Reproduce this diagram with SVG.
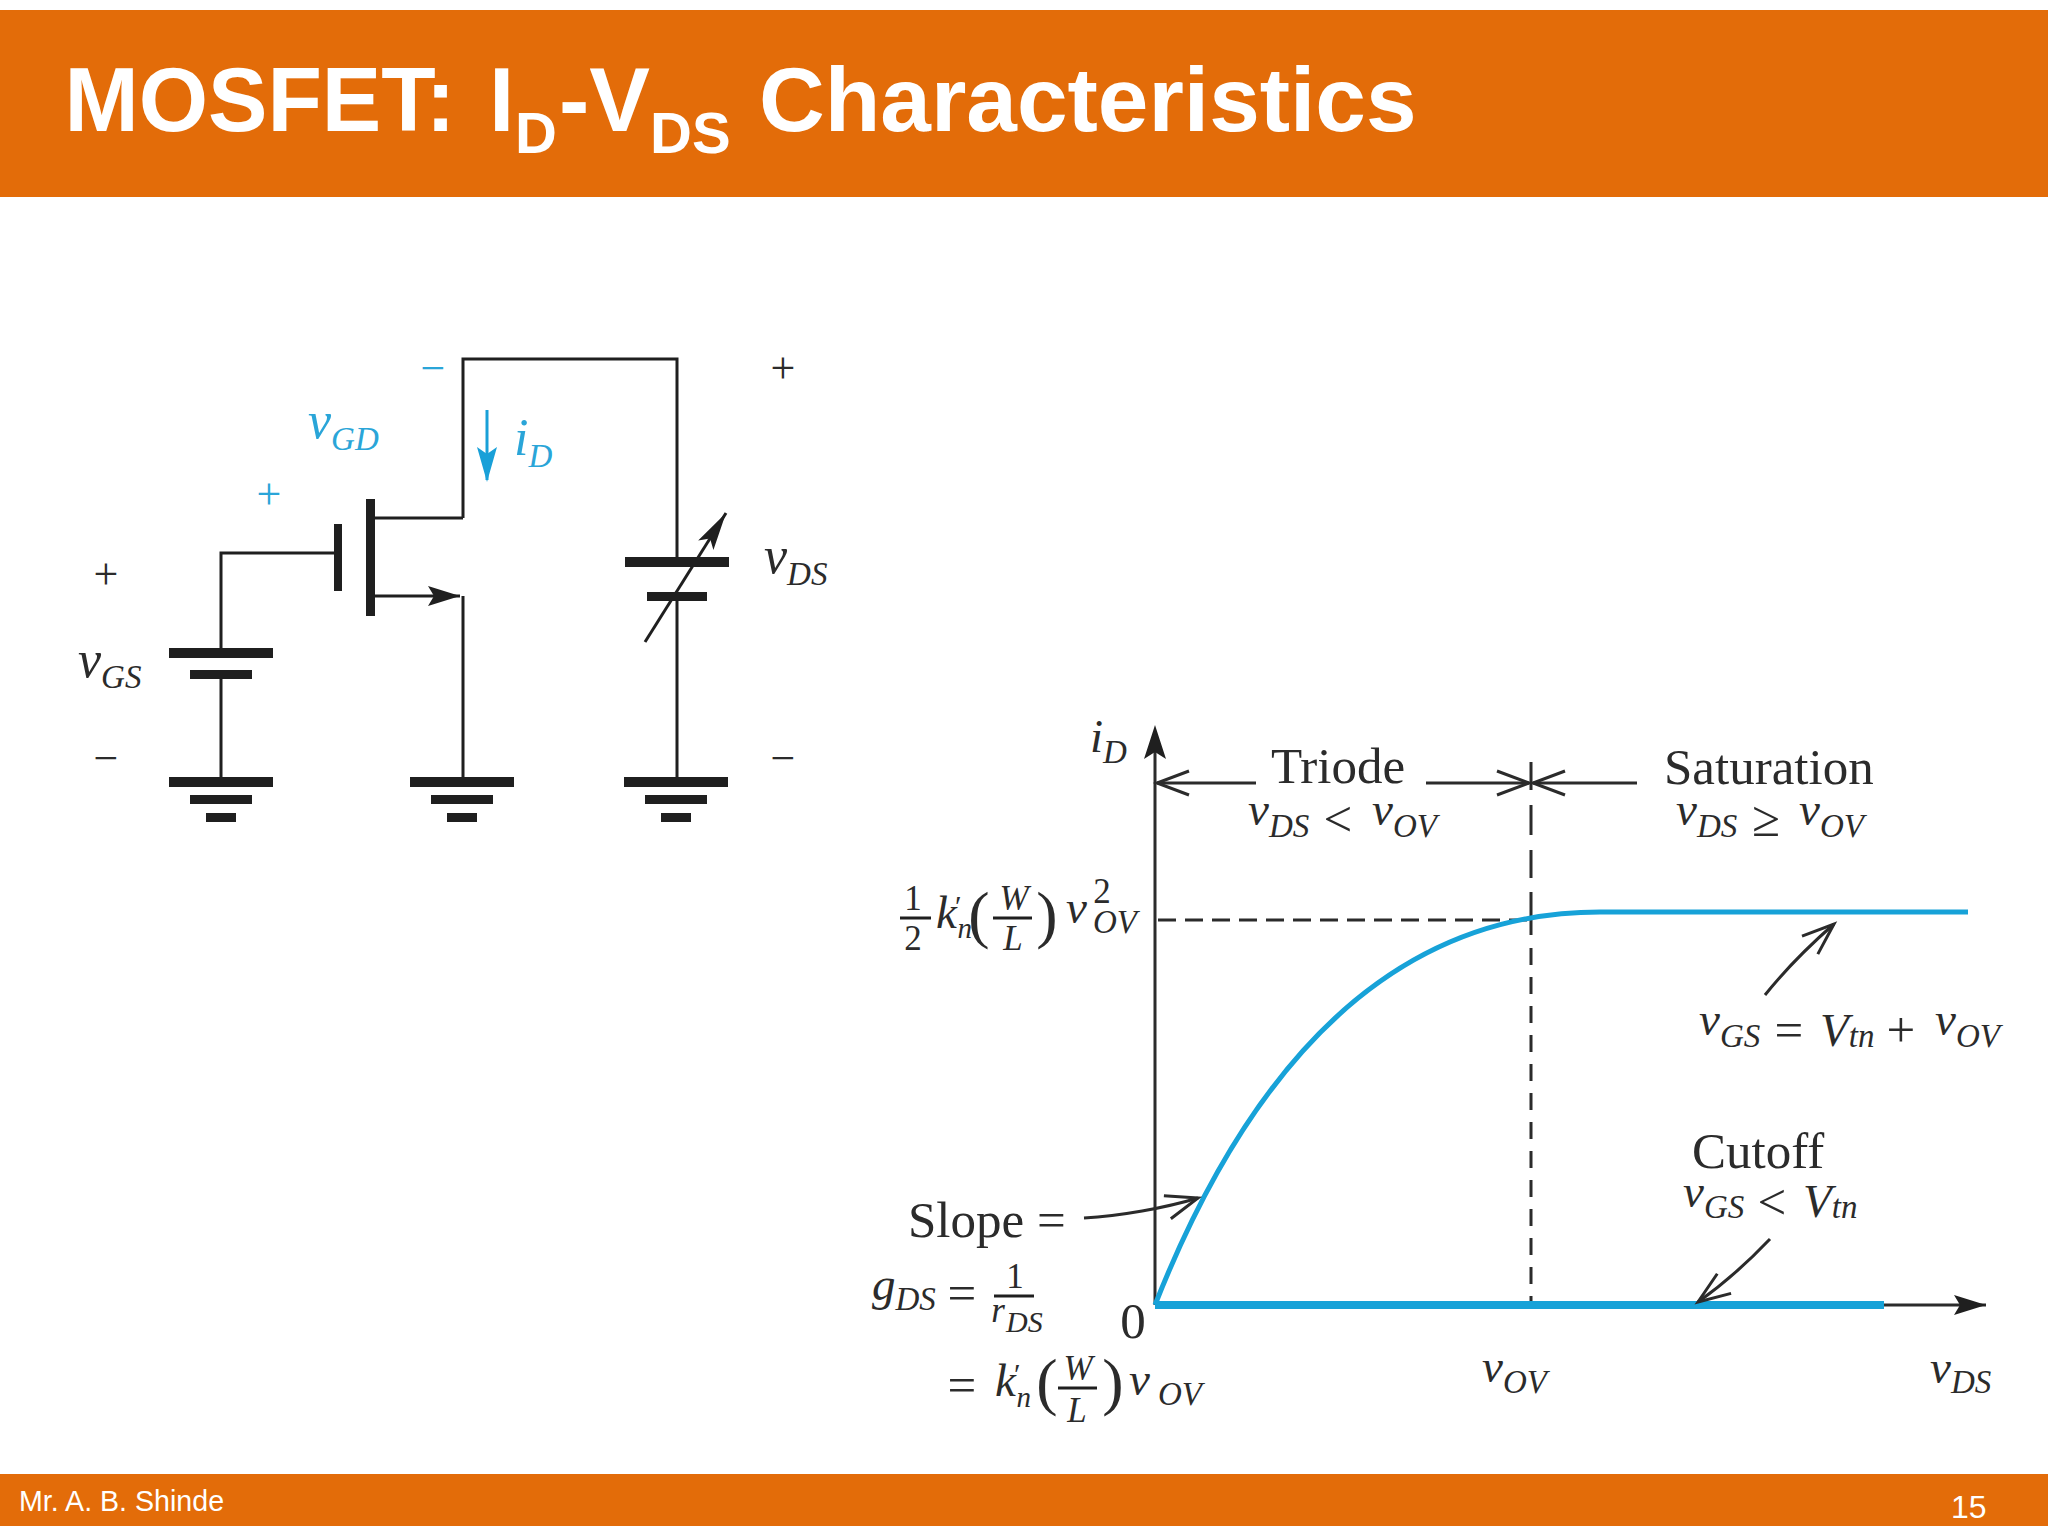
<svg xmlns="http://www.w3.org/2000/svg" width="2048" height="1536" viewBox="0 0 2048 1536">
<style>
text{font-family:"Liberation Serif","Times New Roman",serif;fill:#2b2b2b}
.v{font-style:italic;font-size:52px}
.g{font-style:italic;font-size:47px}
.s{font-style:italic;font-size:33px}
.r{font-size:51px}
.m{text-anchor:middle}
.f{font-size:35px;text-anchor:middle}
.fi{font-size:35px;font-style:italic;text-anchor:middle}
.p{font-size:64px;text-anchor:middle;font-weight:normal}
.blue,.blue tspan{fill:#2aa5d8}
.w{fill:none;stroke:#1f1f1f;stroke-width:3}
.bar{fill:#1f1f1f}
.thin{stroke:#2b2b2b;stroke-width:3;fill:none}
.curve{stroke:#17a2d8;fill:none;stroke-width:5}
.title,.title tspan{font-family:"Liberation Sans",Arial,sans-serif;font-weight:700;font-size:91px;fill:#fff}
.title .sb{font-size:58px}
.foot{font-family:"Liberation Sans",Arial,sans-serif;fill:#fff}
</style>
<defs>
<marker id="open" markerUnits="userSpaceOnUse" markerWidth="44" markerHeight="34" refX="34" refY="17" orient="auto"><path d="M2 5 L34 17 L2 29" fill="none" stroke="#2b2b2b" stroke-width="3"/></marker>
<marker id="solid" markerUnits="userSpaceOnUse" markerWidth="40" markerHeight="30" refX="32" refY="15" orient="auto"><path d="M0 5 L32 15 L0 25 L6 15 Z" fill="#1f1f1f"/></marker>
<marker id="varhead" markerUnits="userSpaceOnUse" markerWidth="48" markerHeight="30" refX="40" refY="15" orient="auto"><path d="M2 6 L40 15 L2 24 L10 15 Z" fill="#1f1f1f"/></marker>
<g id="gnd"><rect x="-52" y="-5" width="104" height="10"/><rect x="-31" y="13" width="62" height="9"/><rect x="-15" y="31" width="30" height="9"/></g>
</defs>
<rect width="2048" height="1536" fill="#fff"/>

<g id="header">
<rect x="0" y="10" width="2048" height="187" fill="#e36c09"/>
<text class="title" x="64.500" y="131" textLength="391" lengthAdjust="spacingAndGlyphs">MOSFET:</text>
<text class="title" x="489" y="131">I<tspan class="sb" x="515" dy="22">D</tspan><tspan x="559" dy="-22">-V</tspan><tspan class="sb" x="650" dy="22">DS</tspan><tspan x="759" dy="-22">Characteristics</tspan></text>
</g>

<g id="footer">
<rect x="0" y="1474" width="2048" height="52" fill="#e36c09"/>
<text class="foot" x="19" y="1511" font-size="28.600">Mr. A. B. Shinde</text>
<text class="foot" x="1951" y="1518" font-size="32">15</text>
</g>

<g id="connectors">
<path class="w" d="M463 518V359H677V562M677 596V782M374 518H463M338 553H221V648M221 674V782M463 596V782"/>
<path class="w" d="M374 596H460" marker-end="url(#solid)"/>
<path class="w" d="M645 642L726 513" marker-end="url(#varhead)"/>
<path d="M487 410V480" fill="none" stroke="#19a0d8" stroke-width="3"/>
<path d="M477 447L487 482L497 447L487 454Z" fill="#19a0d8"/>
<path class="thin" d="M1155 1305V745"/>
<path d="M1155 725L1166 759L1155 752L1144 759Z" fill="#1f1f1f"/>
<path class="thin" d="M1256 783H1157" marker-end="url(#open)"/>
<path class="thin" d="M1426 783H1529" marker-end="url(#open)"/>
<path class="thin" d="M1637 783H1533" marker-end="url(#open)"/>
<path class="thin" d="M1531 762V790M1531 805V835M1531 850V878M1531 892V935"/>
<path class="thin" d="M1531 948V1305" stroke-dasharray="17 12"/>
<path class="thin" d="M1158 920H1531" stroke-dasharray="18 9"/>
<path class="thin" d="M1884 1305H1986" marker-end="url(#solid)"/>
<path class="curve" d="M1155 1305Q1310 912 1600 912H1968"/>
<path class="curve" style="stroke-width:8" d="M1155 1305H1884"/>
<path class="thin" d="M1084 1218C1120 1216 1165 1208 1198 1198" marker-end="url(#open)"/>
<path class="thin" d="M1765 995C1785 970 1810 945 1834 924" marker-end="url(#open)"/>
<path class="thin" d="M1770 1239C1750 1260 1725 1283 1698 1302" marker-end="url(#open)"/>
</g>

<g id="mosfet" class="bar">
<rect x="366" y="499" width="9" height="117"/>
<rect x="334" y="524" width="8" height="67"/>
</g>
<g id="source-gs" class="bar">
<rect x="169" y="648" width="104" height="10"/>
<rect x="190" y="670" width="62" height="9"/>
</g>
<g id="source-ds" class="bar">
<rect x="625" y="557" width="104" height="10"/>
<rect x="647" y="592" width="60" height="9"/>
</g>
<use id="ground-1" href="#gnd" x="221" y="782" class="bar"/>
<use id="ground-2" href="#gnd" x="462" y="782" class="bar"/>
<use id="ground-3" href="#gnd" x="676" y="782" class="bar"/>

<g id="circuit-labels">
<text class="v blue" x="308" y="438">v<tspan class="s" dy="12">GD</tspan></text>
<text class="v blue" x="514" y="455">i<tspan class="s" dy="12">D</tspan></text>
<text class="blue m" x="269" y="509" font-size="44">+</text>
<text class="blue m" x="433" y="383" font-size="44">−</text>
<text class="m" x="106" y="589" font-size="44">+</text>
<text class="m" x="106" y="773" font-size="44">−</text>
<text class="m" x="783" y="383" font-size="44">+</text>
<text class="m" x="783" y="773" font-size="44">−</text>
<text class="v" x="78" y="677">v<tspan class="s" dy="11">GS</tspan></text>
<text class="v" x="764" y="573">v<tspan class="s" dy="12">DS</tspan></text>
</g>

<g id="graph-labels">
<text class="g" x="1090" y="752">i<tspan class="s" dy="11">D</tspan></text>
<text class="r" x="1271" y="783">Triode</text>
<text class="g" x="1248" y="825">v<tspan class="s" dy="12">DS</tspan></text>
<text class="r m" x="1338" y="836">&lt;</text>
<text class="g" x="1372" y="825">v<tspan class="s" dy="12">OV</tspan></text>
<text class="r" x="1664" y="784">Saturation</text>
<text class="g" x="1676" y="825">v<tspan class="s" dy="12">DS</tspan></text>
<text class="r m" x="1766" y="836">≥</text>
<text class="g" x="1799" y="825">v<tspan class="s" dy="12">OV</tspan></text>

<text class="f" x="913" y="910">1</text>
<rect class="bar" x="900" y="916.500" width="31" height="3"/>
<text class="f" x="913" y="950">2</text>
<text class="g" x="936" y="928">k<tspan class="s" dx="-2" dy="-12" style="font-size:30px;font-style:normal">′</tspan><tspan class="s" dx="-4" dy="22" style="font-size:29px">n</tspan></text>
<text class="p" x="979" y="936">(</text>
<text class="fi" x="1014" y="910">W</text>
<rect class="bar" x="993" y="916.500" width="39" height="3"/>
<text class="fi" x="1013" y="950">L</text>
<text class="p" x="1047" y="936">)</text>
<text class="g" x="1066" y="923">v<tspan class="s" dx="6" dy="10">OV</tspan></text>
<text class="f" x="1102" y="903">2</text>

<text class="r" x="908" y="1237">Slope =</text>
<text class="g" x="872" y="1300">g<tspan class="s" dy="10">DS</tspan></text>
<text class="r m" x="962" y="1310">=</text>
<text class="f" x="1015" y="1288">1</text>
<rect class="bar" x="994" y="1294.500" width="40" height="3"/>
<text class="fi" x="998" y="1322">r</text>
<text class="s" x="1006" y="1332" style="font-size:30px">DS</text>
<text class="r m" x="1133" y="1338">0</text>
<text class="r m" x="962" y="1402">=</text>
<text class="g" x="995" y="1396">k<tspan class="s" dx="-2" dy="-12" style="font-size:30px;font-style:normal">′</tspan><tspan class="s" dx="-4" dy="23" style="font-size:29px">n</tspan></text>
<text class="p" x="1047" y="1403">(</text>
<text class="fi" x="1078" y="1380">W</text>
<rect class="bar" x="1058" y="1386.500" width="39" height="3"/>
<text class="fi" x="1077" y="1422">L</text>
<text class="p" x="1113" y="1403">)</text>
<text class="g" x="1129" y="1395">v<tspan class="s" dx="8" dy="10">OV</tspan></text>
<text class="g" x="1482" y="1382">v<tspan class="s" dy="11">OV</tspan></text>
<text class="g" x="1930" y="1383">v<tspan class="s" dy="10">DS</tspan></text>

<text class="g" x="1699" y="1035">v<tspan class="s" dy="12">GS</tspan></text>
<text class="r m" x="1789" y="1047">=</text>
<text class="g" x="1820" y="1046">V<tspan class="s" dy="1">tn</tspan></text>
<text class="r m" x="1901" y="1047">+</text>
<text class="g" x="1935" y="1035">v<tspan class="s" dy="12">OV</tspan></text>
<text class="r" x="1692" y="1168">Cutoff</text>
<text class="g" x="1683" y="1207">v<tspan class="s" dy="11">GS</tspan></text>
<text class="r m" x="1772" y="1219">&lt;</text>
<text class="g" x="1803" y="1217">V<tspan class="s" dy="1">tn</tspan></text>
</g>
</svg>
